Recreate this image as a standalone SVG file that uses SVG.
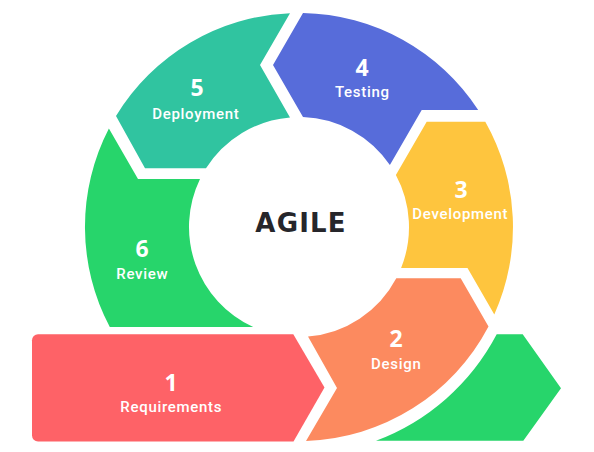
<svg xmlns="http://www.w3.org/2000/svg" width="594" height="452" viewBox="0 0 594 452">
  <style>
    .num { font-family: "Open Sans", "Liberation Sans", sans-serif; font-weight: 700; font-size: 23px; fill: #ffffff; text-anchor: middle; }
    .lbl { font-family: Roboto, "Liberation Sans", sans-serif; font-weight: 500; font-size: 15px; letter-spacing: 0.7px; fill: #ffffff; text-anchor: middle; }
    .title { font-family: "DejaVu Sans", "Liberation Sans", sans-serif; font-weight: 700; font-size: 26px; letter-spacing: 1.2px; fill: #26262b; text-anchor: middle; }
    .red { fill: #fe6267; }
    .orange { fill: #fc8a5f; }
    .yellow { fill: #fec53e; }
    .blue { fill: #576cda; }
    .teal { fill: #30c4a0; }
    .green { fill: #27d56b; }
  </style>
  <rect width="594" height="452" fill="#ffffff"/>

  <g id="connectors">
    <path id="exit-arrow" class="green" d="M496.7,334.3 L522.7,334.3 L561,388.3 L523.3,440.7 L376,440.7 A225,225 0 0 0 496.7,334.3 Z"/>
  </g>

  <g id="node-1-requirements">
    <path class="red" d="M38,334.3 L293.3,334.3 L324.5,387.5 L293.5,441.5 L38,441.5 A6,6 0 0 1 32,435.5 L32,340.3 A6,6 0 0 1 38,334.3 Z"/>
    <text class="num" x="171" y="391">1</text>
    <text class="lbl" x="171.3" y="411.5">Requirements</text>
  </g>

  <g id="node-2-design">
    <path class="orange" d="M396.3,278.3 L460.7,278.3 L488.5,326.5 A214,214 0 0 1 306,440.9 L337,388 L308,336.6 A110,110 0 0 0 396.3,278.3 Z"/>
    <text class="num" x="396" y="346.5">2</text>
    <text class="lbl" x="396.3" y="368.7">Design</text>
  </g>

  <g id="node-3-development">
    <path class="yellow" d="M485.3,121.7 A214,214 0 0 1 494.3,314.4 L467.5,268 L401.1,268 A110,110 0 0 0 395.9,175 L426.7,121.7 Z"/>
    <text class="num" x="461" y="198">3</text>
    <text class="lbl" x="460.3" y="218.5">Development</text>
  </g>

  <g id="node-4-testing">
    <path class="blue" d="M303,13 A214,214 0 0 1 478.2,110 L421.7,110 L389.9,165.1 A110,110 0 0 0 303,117.1 L273,65 Z"/>
    <text class="num" x="362" y="76">4</text>
    <text class="lbl" x="362.3" y="97">Testing</text>
  </g>

  <g id="node-5-deployment">
    <path class="teal" d="M116,116 A214,214 0 0 1 290,13.2 L260,65 L290,117.4 A110,110 0 0 0 206,168.3 L145,168.3 Z"/>
    <text class="num" x="197" y="96">5</text>
    <text class="lbl" x="195.8" y="119">Deployment</text>
  </g>

  <g id="node-6-review">
    <path class="green" d="M108.9,128.6 L138,179 L200,179 A110,110 0 0 0 253.2,327 L109.8,327 A214,214 0 0 1 108.9,128.6 Z"/>
    <text class="num" x="142" y="257">6</text>
    <text class="lbl" x="142.3" y="278.5">Review</text>
  </g>

  <g id="node-agile">
    <text class="title" x="301.1" y="231.7">AGILE</text>
  </g>
</svg>
